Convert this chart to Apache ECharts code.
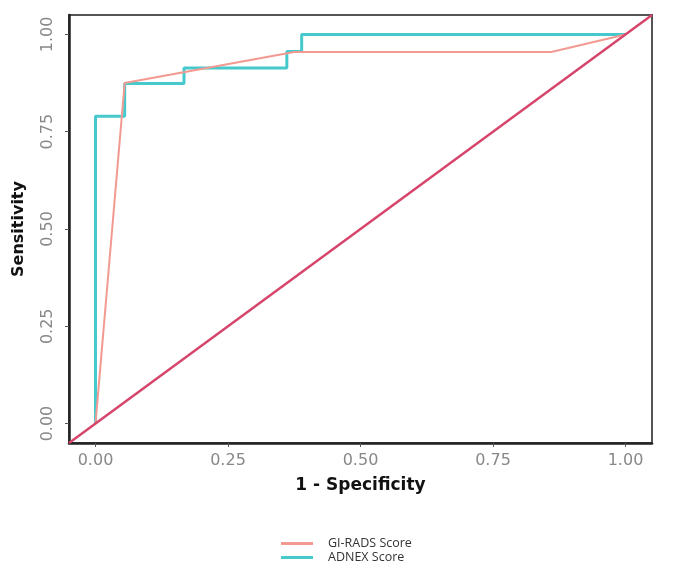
<!DOCTYPE html>
<html>
<head>
<meta charset="utf-8">
<script src="https://cdn.jsdelivr.net/npm/echarts@6/dist/echarts.min.js"></script>
<style>html,body{margin:0;padding:0;background:#fff;}#c{width:685px;height:572px;}</style>
</head>
<body>
<div id="c"></div>
<script>
const tickValues = [0, 0.25, 0.5, 0.75, 1];
const seriesNames = ['GI-RADS Score', 'ADNEX Score'];
const giradsX = [0, 0.055, 0.375, 0.86, 1.0];
const giradsY = [0, 0.875, 0.955, 0.955, 1.0];
const adnexX = [0, 0, 0.055, 0.055, 0.167, 0.167, 0.361, 0.361, 0.389, 0.389, 1.0];
const adnexY = [0, 0.79, 0.79, 0.874, 0.874, 0.914, 0.914, 0.956, 0.956, 1.0, 1.0];
const diagX = [-0.05, 1.05];
const diagY = [-0.05, 1.05];

const pairs = (xs, ys) => xs.map((x, i) => [x, ys[i]]);
const fmt = v => v.toFixed(2);

const chart = echarts.init(document.getElementById('c'));
chart.setOption({
  animation: false,
  grid: { left: 69, right: 33, top: 15, bottom: 129, outerBoundsMode: 'none', containLabel: false, show: true, borderColor: '#555', borderWidth: 2, backgroundColor: '#fff' },
  xAxis: {
    type: 'value', min: -0.05, max: 1.05,
    name: '1 - Specificity', nameLocation: 'middle', nameGap: 34,
    nameTextStyle: { fontFamily: 'DejaVu Sans', fontWeight: 'bold', fontSize: 17, color: '#111' },
    axisLine: { show: true, onZero: false, lineStyle: { color: '#222', width: 2.5 } },
    axisTick: { show: true, customValues: tickValues, length: 4, lineStyle: { color: '#555' } },
    axisLabel: { customValues: tickValues, formatter: fmt, color: '#888', fontSize: 16, fontFamily: 'DejaVu Sans', margin: 10 },
    splitLine: { show: false }
  },
  yAxis: {
    type: 'value', min: -0.05, max: 1.05,
    name: 'Sensitivity', nameLocation: 'middle', nameGap: 42,
    nameTextStyle: { fontFamily: 'DejaVu Sans', fontWeight: 'bold', fontSize: 16, color: '#111' },
    axisLine: { show: true, onZero: false, lineStyle: { color: '#222', width: 2.5 } },
    axisTick: { show: true, customValues: tickValues, length: 4, lineStyle: { color: '#555' } },
    axisLabel: { customValues: tickValues, formatter: fmt, rotate: 90, color: '#888', fontSize: 16, fontFamily: 'DejaVu Sans', margin: 13 },
    splitLine: { show: false }
  },
  legend: {
    data: seriesNames, orient: 'vertical', left: 276, bottom: 3,
    itemWidth: 32, itemHeight: 3, itemGap: 1, icon: 'rect',
    textStyle: { fontSize: 12.5, color: '#333', fontFamily: 'Open Sans', padding: [0, 0, 0, 10] }
  },
  series: [
    { name: seriesNames[0], type: 'line', data: pairs(giradsX, giradsY), showSymbol: false, lineStyle: { color: '#F29A92', width: 2 }, itemStyle: { color: '#F29A92' }, z: 3 },
    { name: seriesNames[1], type: 'line', data: pairs(adnexX, adnexY), showSymbol: false, lineStyle: { color: '#45C9CC', width: 3 }, itemStyle: { color: '#45C9CC' }, z: 2 },
    { name: 'diag', type: 'line', data: pairs(diagX, diagY), showSymbol: false, lineStyle: { color: '#D6456C', width: 2.5 }, z: 4 }
  ]
});
</script>
</body>
</html>
